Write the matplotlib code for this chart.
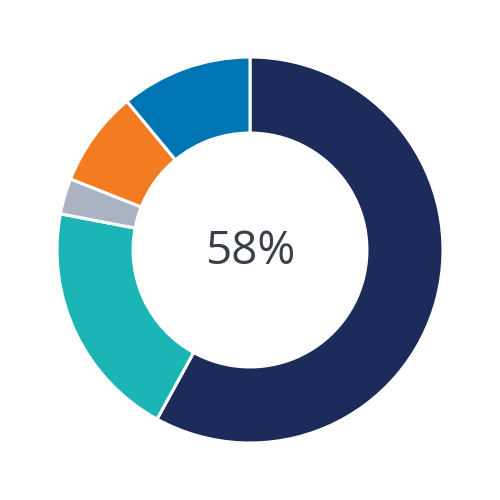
import matplotlib.pyplot as plt

labels = ["Navy", "Teal", "Gray", "Orange", "Blue"]
values = [58, 20, 3, 8, 11]
colors = ["#1c2b5a", "#1bb5b6", "#a9b3c1", "#f47c20", "#0075b4"]
center_text = "58%"

fig = plt.figure(figsize=(5, 5), dpi=100)
ax = fig.add_axes([0, 0, 1, 1])
ax.pie(values, colors=colors, startangle=90, counterclock=False,
       radius=1.0,
       wedgeprops=dict(width=0.394, edgecolor="white", linewidth=2.2))
ax.text(0, -0.01, center_text, ha="center", va="center", fontsize=33,
        family="Open Sans", color="#3a4049")
lim = 250 / 193
ax.set_xlim(-lim, lim)
ax.set_ylim(-lim, lim)
ax.set_aspect("equal")
ax.axis("off")
fig.savefig("out.png", dpi=100, facecolor="white")
